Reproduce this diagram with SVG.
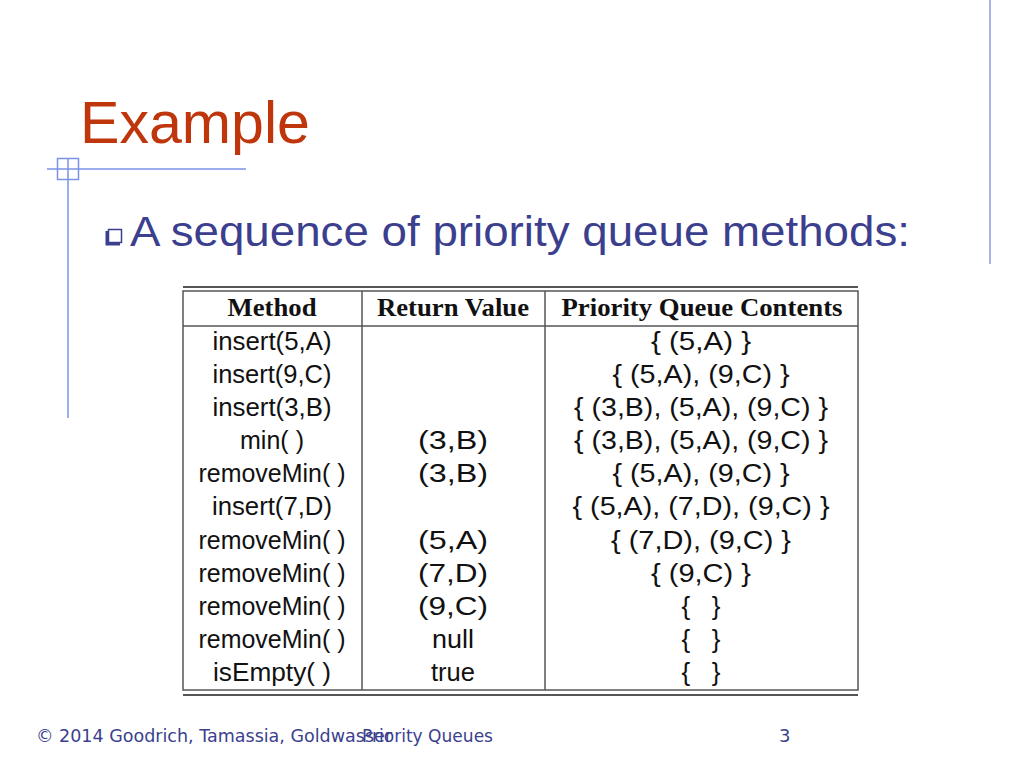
<svg xmlns="http://www.w3.org/2000/svg" width="1024" height="768" viewBox="0 0 1024 768">
<style>
.deco{stroke:#7b93e6;stroke-width:1.5;fill:none}
.rule{stroke:#555;stroke-width:2;fill:none}
.hd{font-family:"Liberation Serif",serif;font-weight:bold;font-size:25px;fill:#111;text-anchor:middle}
.cell{font-family:"Liberation Sans",sans-serif;font-size:26px;fill:#111;text-anchor:middle}
.ft{font-family:"DejaVu Sans","Liberation Sans",sans-serif;font-size:18px;fill:#3b3f8e}
</style>
<rect width="1024" height="768" fill="#fff"/>
<g id="decorations">
<line class="deco" x1="47" y1="169" x2="246" y2="169"/>
<line class="deco" x1="68" y1="158" x2="68" y2="418"/>
<rect class="deco" x="57.5" y="158.5" width="21" height="21"/>
<line x1="990" y1="0" x2="990" y2="264" stroke="#a9b5e3" stroke-width="2"/>
</g>
<g id="title">
<text x="80" y="143" font-family="Liberation Sans,sans-serif" font-size="60" fill="#c0360c" textLength="230" lengthAdjust="spacingAndGlyphs">Example</text>
</g>
<g id="bullet">
<path d="M107 231 L107 244 L120 244" stroke="#3b3f8e" stroke-width="3" fill="none"/>
<rect x="108.5" y="229.5" width="13" height="13" fill="#fff" stroke="#3b3f8e" stroke-width="1.5"/>
<text x="130" y="246" font-family="Liberation Sans,sans-serif" font-size="43" fill="#3b3f8e" textLength="780" lengthAdjust="spacingAndGlyphs">A sequence of priority queue methods:</text>
</g>
<g id="table">
<line class="rule" x1="183" y1="287" x2="858" y2="287"/>
<rect x="183" y="291" width="675" height="399" fill="none" stroke="#555" stroke-width="1.5"/>
<line class="rule" x1="183" y1="695" x2="858" y2="695" stroke-width="2.5"/>
<line x1="183" y1="326" x2="858" y2="326" stroke="#555" stroke-width="1.5"/>
<line x1="362" y1="291" x2="362" y2="690" stroke="#555" stroke-width="1.5"/>
<line x1="545" y1="291" x2="545" y2="690" stroke="#555" stroke-width="1.5"/>
<text class="hd" x="272" y="316" textLength="89" lengthAdjust="spacingAndGlyphs">Method</text>
<text class="hd" x="453" y="316" textLength="152" lengthAdjust="spacingAndGlyphs">Return Value</text>
<text class="hd" x="702" y="316" textLength="281" lengthAdjust="spacingAndGlyphs">Priority Queue Contents</text>
</g>
<g id="col-method">
<text class="cell" x="272" y="350" textLength="119" lengthAdjust="spacingAndGlyphs">insert(5,A)</text>
<text class="cell" x="272" y="383" textLength="119" lengthAdjust="spacingAndGlyphs">insert(9,C)</text>
<text class="cell" x="272" y="416" textLength="119" lengthAdjust="spacingAndGlyphs">insert(3,B)</text>
<text class="cell" x="272" y="449" textLength="64" lengthAdjust="spacingAndGlyphs">min( )</text>
<text class="cell" x="272" y="482" textLength="147" lengthAdjust="spacingAndGlyphs">removeMin( )</text>
<text class="cell" x="272" y="515" textLength="120" lengthAdjust="spacingAndGlyphs">insert(7,D)</text>
<text class="cell" x="272" y="549" textLength="147" lengthAdjust="spacingAndGlyphs">removeMin( )</text>
<text class="cell" x="272" y="582" textLength="147" lengthAdjust="spacingAndGlyphs">removeMin( )</text>
<text class="cell" x="272" y="615" textLength="147" lengthAdjust="spacingAndGlyphs">removeMin( )</text>
<text class="cell" x="272" y="648" textLength="147" lengthAdjust="spacingAndGlyphs">removeMin( )</text>
<text class="cell" x="272" y="681" textLength="118" lengthAdjust="spacingAndGlyphs">isEmpty( )</text>
</g>
<g id="col-return">
<text class="cell" x="453" y="449" textLength="70" lengthAdjust="spacingAndGlyphs">(3,B)</text>
<text class="cell" x="453" y="482" textLength="70" lengthAdjust="spacingAndGlyphs">(3,B)</text>
<text class="cell" x="453" y="549" textLength="70" lengthAdjust="spacingAndGlyphs">(5,A)</text>
<text class="cell" x="453" y="582" textLength="70" lengthAdjust="spacingAndGlyphs">(7,D)</text>
<text class="cell" x="453" y="615" textLength="70" lengthAdjust="spacingAndGlyphs">(9,C)</text>
<text class="cell" x="453" y="648" textLength="42" lengthAdjust="spacingAndGlyphs">null</text>
<text class="cell" x="453" y="681" textLength="44" lengthAdjust="spacingAndGlyphs">true</text>
</g>
<g id="col-contents">
<text class="cell" x="701" y="350" textLength="100" lengthAdjust="spacingAndGlyphs">{ (5,A) }</text>
<text class="cell" x="701" y="383" textLength="177" lengthAdjust="spacingAndGlyphs">{ (5,A), (9,C) }</text>
<text class="cell" x="701" y="416" textLength="254" lengthAdjust="spacingAndGlyphs">{ (3,B), (5,A), (9,C) }</text>
<text class="cell" x="701" y="449" textLength="254" lengthAdjust="spacingAndGlyphs">{ (3,B), (5,A), (9,C) }</text>
<text class="cell" x="701" y="482" textLength="177" lengthAdjust="spacingAndGlyphs">{ (5,A), (9,C) }</text>
<text class="cell" x="701" y="515" textLength="257" lengthAdjust="spacingAndGlyphs">{ (5,A), (7,D), (9,C) }</text>
<text class="cell" x="701" y="549" textLength="180" lengthAdjust="spacingAndGlyphs">{ (7,D), (9,C) }</text>
<text class="cell" x="701" y="582" textLength="100" lengthAdjust="spacingAndGlyphs">{ (9,C) }</text>
<text class="cell" x="701" y="615">{&#160;&#160;&#160;}</text>
<text class="cell" x="701" y="648">{&#160;&#160;&#160;}</text>
<text class="cell" x="701" y="681">{&#160;&#160;&#160;}</text>
</g>
<g id="footer">
<text class="ft" x="36" y="742" textLength="356" lengthAdjust="spacingAndGlyphs">© 2014 Goodrich, Tamassia, Goldwasser</text>
<text class="ft" x="362" y="742" textLength="131" lengthAdjust="spacingAndGlyphs">Priority Queues</text>
<text class="ft" x="779" y="742">3</text>
</g>
</svg>
